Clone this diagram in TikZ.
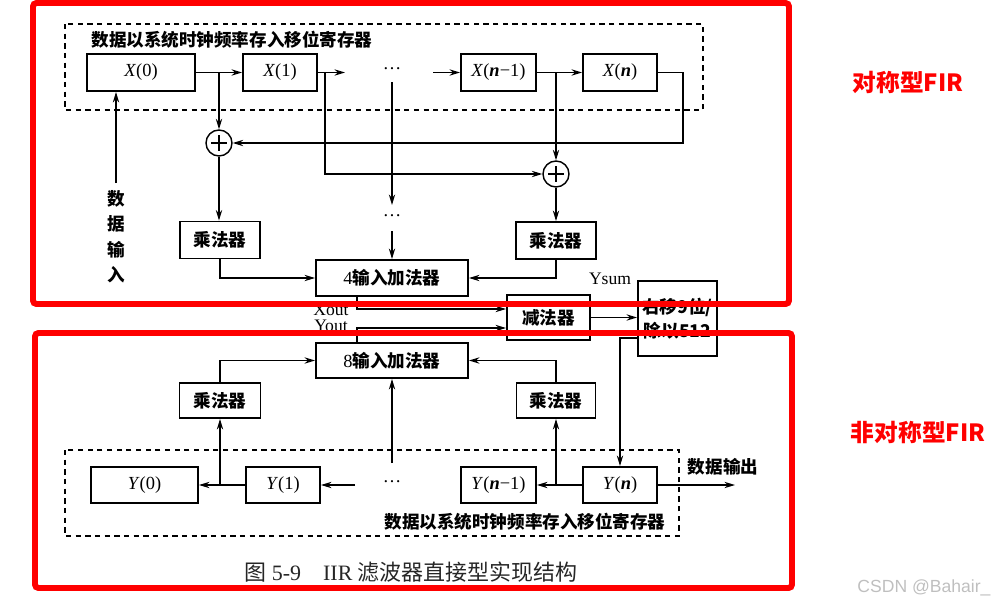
\documentclass[tikz,border=0pt]{standalone}
\usepackage{fontspec}
\setmainfont{Liberation Serif}
\newfontfamily\cjk{Noto Sans CJK SC}
\newfontfamily\sansf{Liberation Sans}
\usetikzlibrary{arrows.meta,calc}
\newcommand{\fsz}[1]{\fontsize{#1}{#1}\selectfont}
\tikzset{
  blk/.style={draw, line width=1.1pt, inner sep=0pt, font=\fsz{10.5}},
  cbk/.style={blk, font=\fsz{10}\cjk\bfseries},
  conn/.style={line width=0.7pt},
  arr/.style={conn, -{Stealth[length=6pt,width=3.6pt]}},
  sumc/.style={circle, draw, line width=0.8pt, minimum size=0.52cm, inner sep=0pt},
  dbox/.style={line width=0.7pt, dash pattern=on 3pt off 2.5pt},
  lbl/.style={inner sep=0pt, font=\fsz{10}\cjk\bfseries},
  slbl/.style={inner sep=0pt, font=\fsz{10}},
  dotsn/.style={inner sep=0pt, font=\fsz{10.5}},
  frame/.style={draw=red, line width=3.4pt, rounded corners=2pt},
  redl/.style={inner sep=0pt, text=red, font=\fsz{13.5}\cjk\bfseries},
}
\begin{document}
\begin{tikzpicture}[x=0.02cm,y=-0.02cm]
\useasboundingbox (0,0) rectangle (995,605);

% dashed register boxes
\draw[dbox] (65,24) rectangle (703,110);
\draw[dbox] (65,450) rectangle (679,536);
\node[lbl] (t1) at (232,40) {数据以系统时钟频率存入移位寄存器};
\node[lbl] (t2) at (525,522) {数据以系统时钟频率存入移位寄存器};

% top registers
\node[blk, minimum width=2.16cm, minimum height=0.74cm] (X0) at (141,72.5) {\textit{X}(0)};
\node[blk, minimum width=1.48cm, minimum height=0.74cm] (X1) at (280,72.5) {\textit{X}(1)};
\node[blk, minimum width=1.5cm, minimum height=0.74cm] (Xn1) at (498.5,72.5) {\textit{X}(\textbf{\textit{n}}−1)};
\node[blk, minimum width=1.48cm, minimum height=0.74cm] (Xn) at (620,72.5) {\textit{X}(\textbf{\textit{n}})};
\node[dotsn] (d1) at (392,69) {…};

% adders
\node[sumc] (addL) at (219,143) {};
\node[sumc] (addR) at (556,174) {};
\draw[conn] (addL.center) +(-8,0) -- +(8,0) (addL.center) +(0,-8) -- +(0,8);
\draw[conn] (addR.center) +(-8,0) -- +(8,0) (addR.center) +(0,-8) -- +(0,8);

% multipliers and adders
\node[cbk, minimum width=1.6cm, minimum height=0.74cm] (mulL1) at (220,240) {乘法器};
\node[cbk, minimum width=1.6cm, minimum height=0.74cm] (mulR1) at (556,240.5) {乘法器};
\node[blk, minimum width=3.04cm, minimum height=0.72cm] (add4) at (392,278) {{\fsz{10.5}4}{\fsz{10}\cjk\bfseries 输入加法器}};
\node[dotsn] (d2) at (392,216) {…};
\node[cbk, minimum width=1.66cm, minimum height=0.9cm] (sub) at (548.5,317.5) {减法器};
\node[blk, minimum width=1.58cm, minimum height=1.5cm, align=center, font=\fsz{10}\cjk\bfseries] (shift) at (677.5,318.5) {右移9位/\\[2pt]除以512};
\node[blk, minimum width=3.04cm, minimum height=0.7cm] (add8) at (392,360.5) {{\fsz{10.5}8}{\fsz{10}\cjk\bfseries 输入加法器}};
\node[cbk, minimum width=1.62cm, minimum height=0.7cm] (mulL2) at (220,400.5) {乘法器};
\node[cbk, minimum width=1.58cm, minimum height=0.7cm] (mulR2) at (556,400.5) {乘法器};

% bottom registers
\node[blk, minimum width=2.14cm, minimum height=0.72cm] (Y0) at (144.5,485) {\textit{Y}(0)};
\node[blk, minimum width=1.48cm, minimum height=0.72cm] (Y1) at (283,485) {\textit{Y}(1)};
\node[blk, minimum width=1.5cm, minimum height=0.72cm] (Yn1) at (498.5,485) {\textit{Y}(\textbf{\textit{n}}−1)};
\node[blk, minimum width=1.48cm, minimum height=0.72cm] (Yn) at (620,485) {\textit{Y}(\textbf{\textit{n}})};
\node[dotsn] (d3) at (392,482) {…};

% labels
\node[slbl] (xol) at (331,310) {Xout};
\node[slbl] (yol) at (331,326) {Yout};
\node[slbl] (ysl) at (610,279) {Ysum};
\node[lbl, align=center, font=\fsz{10}\cjk\bfseries, text depth=0pt] (din) at (116,236) {数\\[4.5pt]据\\[4.5pt]输\\[4.5pt]入};
\node[lbl] (dout) at (723,467) {数据输出};
\node[inner sep=0pt, font=\fsz{12.5}, text=black!85] (cap) at (411,572) {{\cjk 图} 5-9\hspace{1em}IIR {\cjk 滤波器直接型实现结构}};

% coordinates
\coordinate (x1o) at (345,72.5);
\coordinate (x1b) at (325,72.5);
\coordinate (xn1i) at (433,72.5);
\coordinate (xnr) at (683,72.5);
\coordinate (v1) at (392,82);
\coordinate (v2) at (392,205);
\coordinate (v3) at (392,231);
\coordinate (xo) at (357,296);
\coordinate (yo) at (357,343);
\coordinate (y1i) at (355,485);
\coordinate (v4) at (392,463);
\coordinate (out) at (735,485);
\coordinate (xin) at (116,183);

% connectors top
\draw[arr] (X0) -- (X1);
\draw[arr] (X0.east -| addL.north) -- (addL.north);
\draw[arr] (X1) -- (x1o);
\draw[arr] (x1b) |- (addR.west);
\draw[arr] (xn1i) -- (Xn1);
\draw[arr] (Xn1) -- (Xn);
\draw[arr] (Xn1.east -| addR.north) -- (addR.north);
\draw[arr] (Xn.east) -- (xnr) |- (addL.east);
\draw[arr] (v1) -- (v2);
\draw[arr] (v3) -- (add4.north);
\draw[arr] (addL.south) -- (addL.south |- mulL1.north);
\draw[arr] (addR.south) -- (addR.south |- mulR1.north);
\draw[arr] (mulL1.south) |- (add4.west);
\draw[arr] (mulR1.south) |- (add4.east);
\draw[arr] (xin) -- (xin |- X0.south);

% middle
\draw[arr] (xo) |- ($(sub.west)+(0,-8.5)$);
\draw[arr] (yo) |- ($(sub.west)+(0,10.5)$);
\draw[arr] (sub.east) -- (sub.east -| shift.west);
\draw[arr] ($(shift.west)+(0,19.5)$) -| (Yn.north);

% bottom
\draw[arr] (mulL2.north) |- (add8.west);
\draw[arr] (mulR2.north) |- (add8.east);
\draw[arr] (Y1) -- (Y0);
\draw[arr] (Y1.west -| mulL2.south) -- (mulL2.south);
\draw[arr] (y1i) -- (Y1);
\draw[arr] (v4) -- (add8.south);
\draw[arr] (Yn) -- (Yn1);
\draw[arr] (Yn.west -| mulR2.south) -- (mulR2.south);
\draw[arr] (Yn) -- (out);

% red annotation frames
\draw[frame] (33,3) rectangle (789,304);
\draw[frame] (35,333) rectangle (792,588);
\node[redl] (r1) at (908,82) {对称型FIR};
\node[redl] (r2) at (918,432) {非对称型FIR};
\node[inner sep=0pt, font=\fsz{10}\sansf, text=black!25] (wm) at (924,588) {CSDN @Bahair\_};
\end{tikzpicture}
\end{document}
